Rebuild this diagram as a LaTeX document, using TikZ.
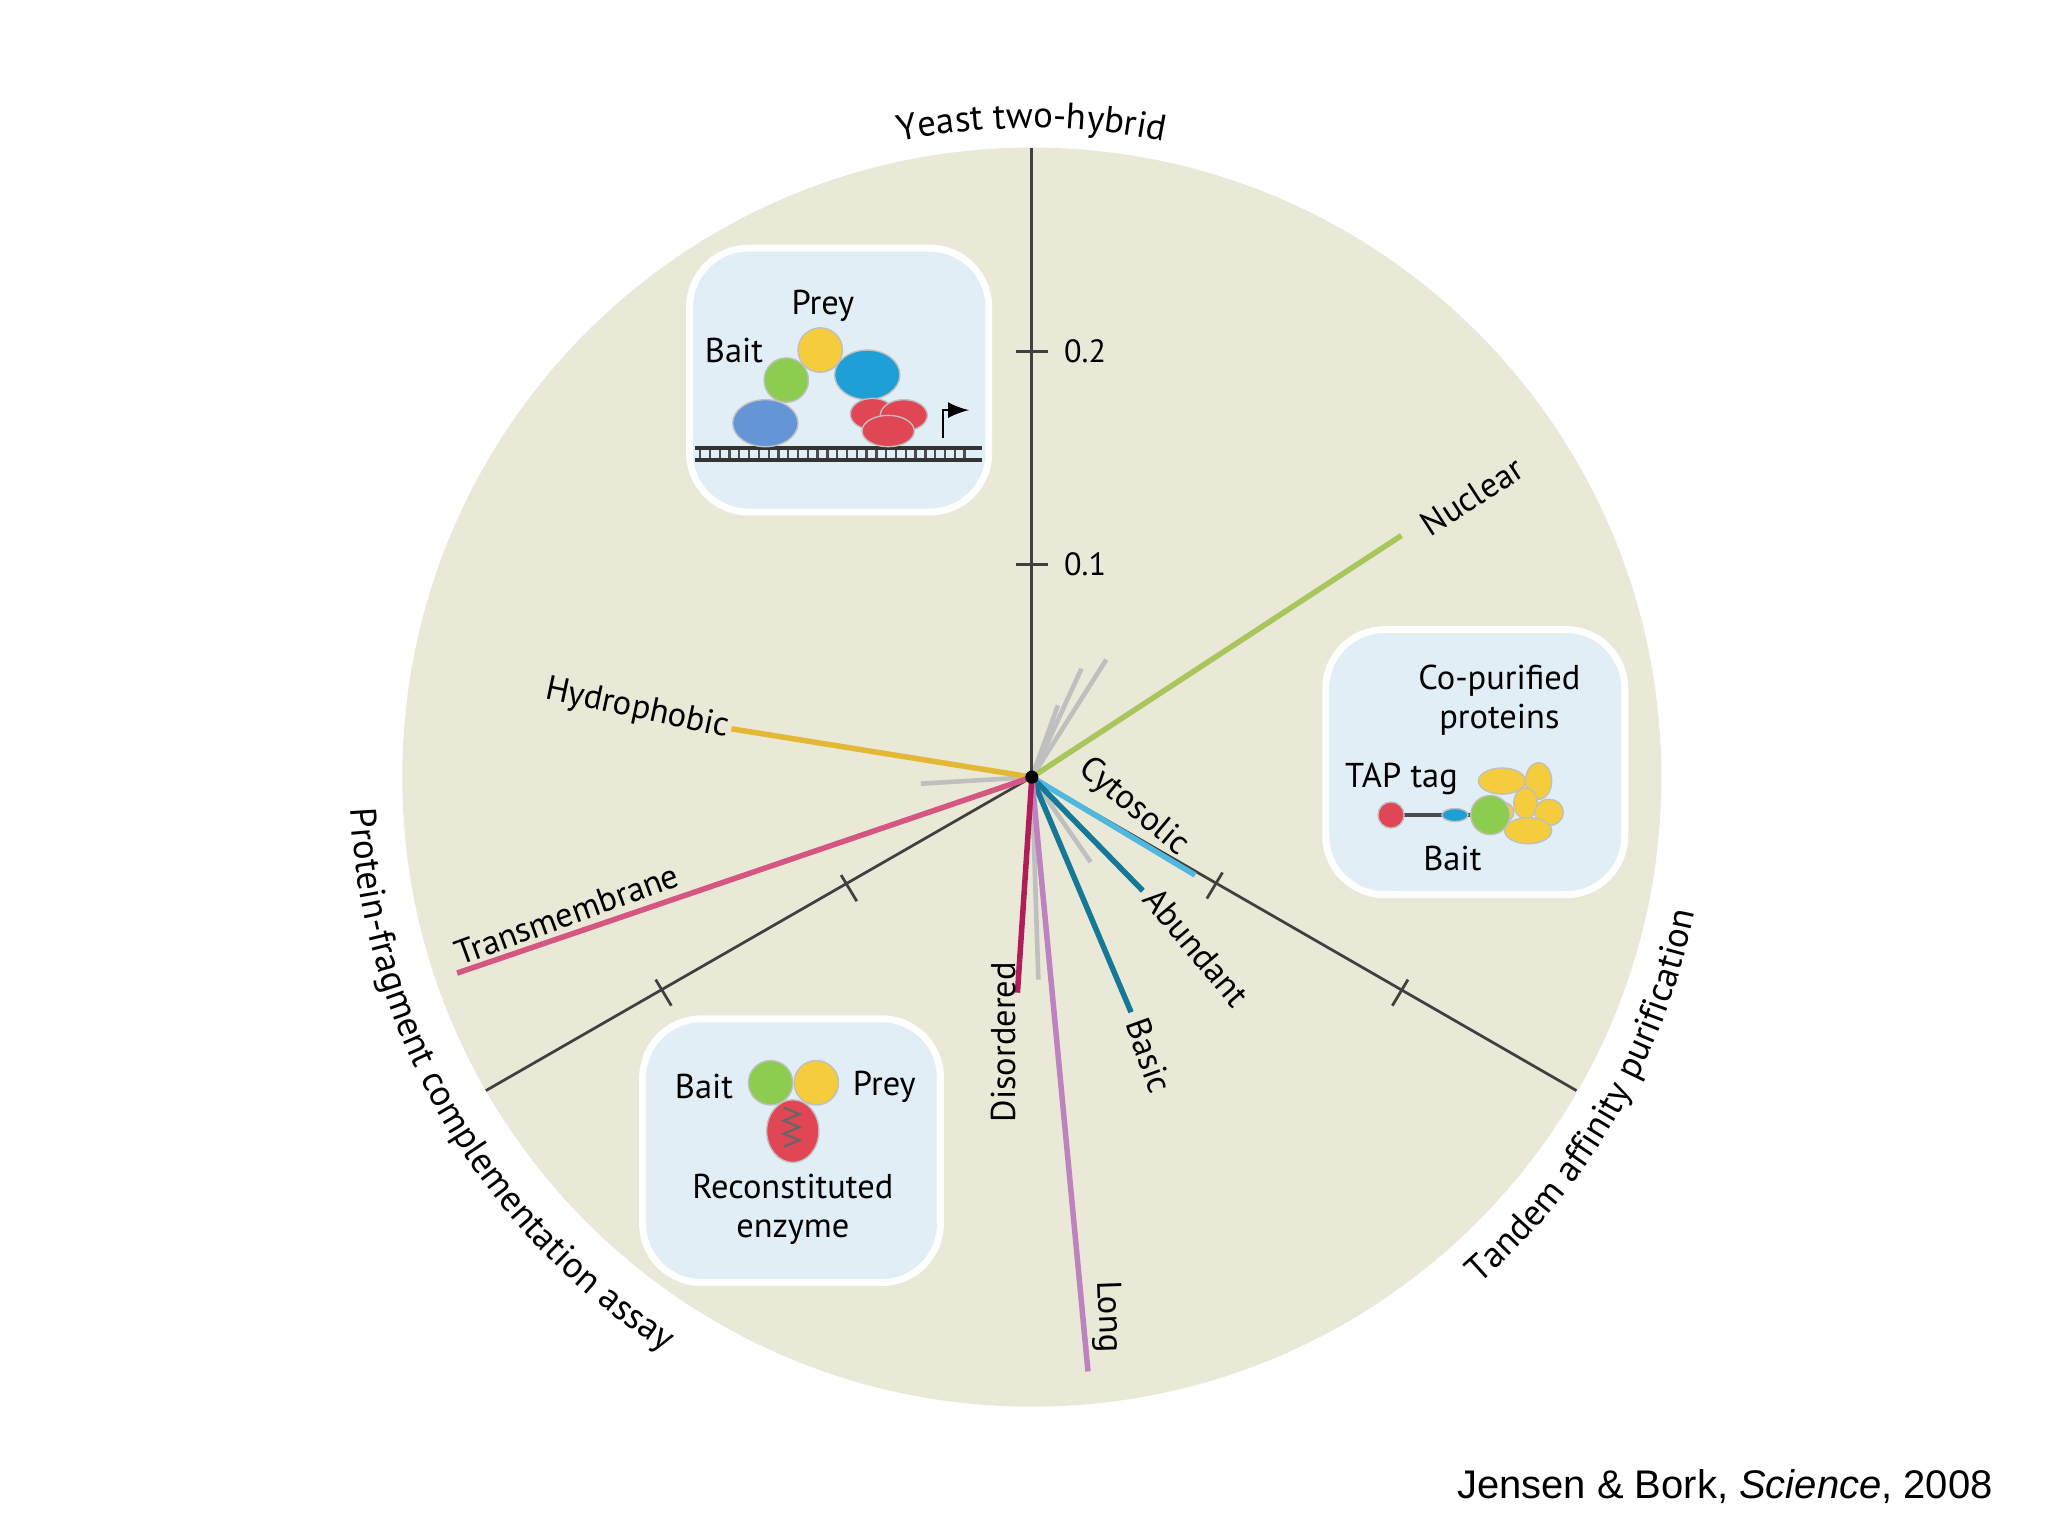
\documentclass[tikz,border=0pt]{standalone}
\usepackage{fontspec}
\setmainfont{PT Sans}
\newfontfamily\citefont{Liberation Sans}
\usetikzlibrary{positioning,decorations.text}
\definecolor{disc}{RGB}{234,233,216}
\definecolor{boxfill}{RGB}{226,238,246}
\definecolor{nucl}{RGB}{168,198,92}
\definecolor{hydro}{RGB}{226,184,52}
\definecolor{trans}{RGB}{214,86,130}
\definecolor{cyto}{RGB}{80,184,222}
\definecolor{teal}{RGB}{20,120,150}
\definecolor{longc}{RGB}{190,130,190}
\definecolor{disord}{RGB}{176,30,90}
\definecolor{bgreen}{RGB}{140,205,80}
\definecolor{byell}{RGB}{245,205,60}
\definecolor{bred}{RGB}{225,70,85}
\definecolor{bblue}{RGB}{100,150,215}
\definecolor{bcyan}{RGB}{30,160,215}
\newcommand{\axfont}{\fontsize{8}{9}\selectfont}
\begin{document}
\begin{tikzpicture}[x=0.01cm,y=-0.01cm,
    lab/.style={font=\fontsize{7.5}{8.5}\selectfont},
    axis/.style={draw=black!75,line width=0.6pt},
    prop/.style={line width=1.2pt},
    faint/.style={draw=black!25,line width=1pt},
    panel/.style={draw=white,line width=1.5pt,rounded corners=0.45cm,fill=boxfill},
    blob/.style={draw=black!25,line width=0.3pt},
    arclab/.style={decorate,decoration={text along path,text align=center,text={|\axfont|#1}}}]
  \useasboundingbox (0,0) rectangle (1568,1176);
  % disc
  \fill[disc] (790,595) circle (482);
  \coordinate (O) at (790,595);
  % faint lines
  \foreach \e in {(828,512),(847,505),(810,540),(705,600),(795,750),(835,660)}
    \draw[faint] (O) -- \e;
  % axes
  \coordinate (Y) at (790,113);
  \coordinate (P) at (372,835);
  \coordinate (T) at (1207,835);
  \draw[axis] (O) -- (Y);
  \draw[axis] (O) -- (P);
  \draw[axis] (O) -- (T);
  \draw[axis] (778,432) -- (802,432) node[right,font=\fontsize{7}{8}\selectfont] {0.1};
  \draw[axis] (778,269) -- (802,269) node[right,font=\fontsize{7}{8}\selectfont] {0.2};
  \foreach \p/\q in {650/680,508/760}
    \draw[axis] (\p,\q) ++(-6,-10) -- ++(12,20);
  \foreach \p/\q in {930/678,1072/760}
    \draw[axis] (\p,\q) ++(6,-10) -- ++(-12,20);
  % properties
  \coordinate (nuc) at (1073,410);
  \coordinate (hyd) at (560,558);
  \coordinate (tra) at (350,745);
  \coordinate (cyt) at (915,670);
  \coordinate (abu) at (875,682);
  \coordinate (bas) at (866,775);
  \coordinate (lon) at (833,1050);
  \coordinate (dis) at (779,760);
  \draw[prop,nucl] (O) -- (nuc);
  \draw[prop,hydro] (O) -- (hyd);
  \draw[prop,trans] (O) -- (tra);
  \draw[prop,cyto] (O) -- (cyt);
  \draw[prop,teal] (O) -- (abu);
  \draw[prop,teal] (O) -- (bas);
  \draw[prop,longc] (O) -- (lon);
  \draw[prop,disord] (O) -- (dis);
  \fill (O) circle (5);
  % property labels
  \node[lab,rotate=33] (nucL) at (1127,380) {Nuclear};
  \node[lab,rotate=-12] (hydL) at (488,543) {Hydrophobic};
  \node[lab,rotate=20] (traL) at (434,700) {Transmembrane};
  \node[lab,rotate=-40] (cytL) at (868,618) {Cytosolic};
  \node[lab,rotate=-50] (abuL) at (916,725) {Abundant};
  \node[lab,rotate=-70] (basL) at (880,808) {Basic};
  \node[lab,rotate=-88] (lonL) at (848,1008) {Long};
  \node[lab,rotate=90] (disL) at (768,798) {Disordered};
  % axis labels along the rim
  \path[arclab={Yeast two-hybrid}] (O) ++(-103:497) arc (-103:-77:497);
  \path[arclab={Protein-fragment complementation assay}] (O) ++(178:522) arc (178:122:522);
  \path[arclab={Tandem affinity purification}] (O) ++(50:518) arc (50:10:518);
  % panel: yeast two-hybrid
  \draw[panel] (528,190) rectangle (757,392);
  \foreach \i in {0,...,27}
    \draw[black!70,line width=0.5pt] (536+7.5*\i,343) -- (536+7.5*\i,352);
  \draw[black!80,line width=0.8pt] (532,343) -- (752,343) (532,352) -- (752,352);
  \draw[blob,fill=bblue] (586,324) ellipse (25 and 18);
  \draw[blob,fill=bgreen] (602,291) circle (17);
  \draw[blob,fill=byell] (628,268) circle (17);
  \draw[blob,fill=bcyan] (664,287) ellipse (25 and 19);
  \draw[blob,fill=bred] (668,317) ellipse (17 and 12);
  \draw[blob,fill=bred] (692,318) ellipse (18 and 12);
  \draw[blob,fill=bred] (680,330) ellipse (20 and 12);
  \draw[black,line width=0.6pt,-latex] (722,335) -- (722,314) -- (742,314);
  \node[lab] (preyA) at (630,234) {Prey};
  \node[lab] (baitA) at (562,268) {Bait};
  % panel: TAP
  \draw[panel] (1015,482) rectangle (1244,685);
  \node[lab,align=center] (copur) at (1148,536) {Co-purified\\proteins};
  \node[lab] (tag) at (1073,596) {TAP tag};
  \node[lab] (baitB) at (1112,657) {Bait};
  \draw[black!70,line width=0.8pt] (1065,624) -- (1128,624);
  \draw[blob,fill=bred] (1065,624) circle (10);
  \draw[blob,fill=bcyan] (1114,624) ellipse (10 and 5);
  \foreach \x/\y/\rx/\ry in {1150/598/18/10,1178/598/10/14,1168/615/9/12,1186/622/11/10,1170/636/18/10,1150/622/9/8}
    \draw[blob,fill=byell] (\x,\y) ellipse ({\rx} and {\ry});
  \draw[blob,fill=bgreen] (1141,624) circle (15);
  % panel: PCA
  \draw[panel] (492,780) rectangle (720,982);
  \draw[blob,fill=bred] (607,866) ellipse (20 and 24);
  \draw[blob,fill=bgreen] (590,829) circle (17);
  \draw[blob,fill=byell] (625,829) circle (17);
  \draw[black!60,line width=0.5pt] (600,848) -- (612,853) -- (600,858) -- (612,863) -- (600,868) -- (612,873) -- (600,878);
  \node[lab] (baitC) at (539,832) {Bait};
  \node[lab] (preyC) at (677,832) {Prey};
  \node[lab,align=center] (recon) at (607,926) {Reconstituted\\enzyme};
  % citation
  \node[font=\fontsize{8.7}{11}\selectfont\citefont,anchor=east] (cite) at (1538,1138) {Jensen \& Bork, \textit{Science}, 2008};
\end{tikzpicture}
\end{document}
